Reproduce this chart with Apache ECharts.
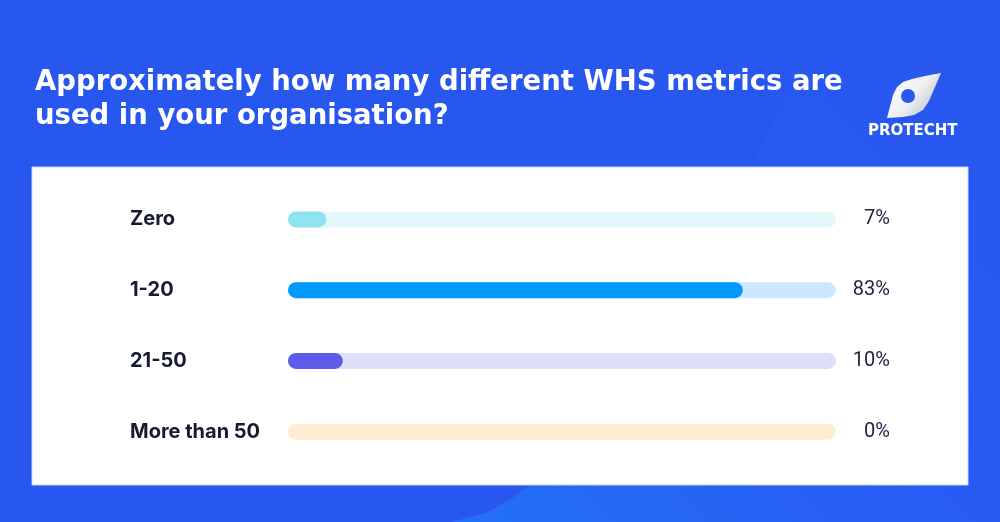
<!DOCTYPE html>
<html>
<head>
<meta charset="utf-8">
<script src="https://cdn.jsdelivr.net/npm/echarts@6/dist/echarts.min.js"></script>
<style>html,body{margin:0;padding:0;background:#2857f0;}#c{width:1000px;height:522px;}</style>
</head>
<body>
<div id="c"></div>
<script>
const categories = ['Zero', '1-20', '21-50', 'More than 50'];
const values = [7, 83, 10, 0];
const percentLabels = ['7%', '83%', '10%', '0%'];
const trackMax = [100, 100, 100, 100];
const barColors = ['#8fe2ef', '#0099ff', '#5b5de8', '#ffc77a'];
const trackColors = ['#e6f7fb', '#cde8fe', '#dfdffa', '#ffecd2'];
const titleText = 'Approximately how many different WHS metrics are\nused in your organisation?';

// decorative swoosh outline (background art, not data)
const swoosh = [[828, 0], [1000, 0], [1000, 522], [452, 522]];
for (let t = 1; t < 20; t++) {
  const u = t / 20;
  swoosh.push([452 + (828 - 452) * Math.pow(u, 0.8), 522 - 522 * Math.pow(u, 1.35)]);
}

const chart = echarts.init(document.getElementById('c'));
chart.setOption({
  backgroundColor: '#2857f0',
  animation: false,
  title: {
    text: titleText,
    left: 30, top: 61,
    textStyle: { color: '#ffffff', fontFamily: 'DejaVu Sans', fontWeight: 'bold', fontSize: 27.5, lineHeight: 34 }
  },
  graphic: [
    { type: 'polygon', z: -10, silent: true,
      shape: { points: swoosh },
      style: { fill: new echarts.graphic.LinearGradient(0, 1, 1, 0, [
        { offset: 0, color: 'rgba(30,140,255,0.5)' },
        { offset: 0.5, color: 'rgba(40,110,250,0.2)' },
        { offset: 1, color: 'rgba(40,87,240,0)' }]) } },
    { type: 'rect', z: -5, silent: true, shape: { x: 32, y: 167, width: 936, height: 318 },
      style: { fill: '#ffffff', stroke: '#c6d3f8', lineWidth: 1 } },
    { type: 'polygon', silent: true,
      shape: { points: [[941, 73], [925, 76], [912, 79], [903, 82], [897, 87], [893, 95], [887, 118], [903, 117], [914, 115], [923, 110], [929, 101]] },
      style: { fill: new echarts.graphic.LinearGradient(0, 0, 1, 1, [
        { offset: 0, color: '#ffffff' }, { offset: 0.5, color: '#eef0f4' }, { offset: 1, color: '#a9b0bf' }]) } },
    { type: 'circle', silent: true, shape: { cx: 908, cy: 96, r: 7 }, style: { fill: '#2857f0' } },
    { type: 'text', silent: true, left: 868, top: 124,
      style: { text: 'PROTECHT', fill: '#ffffff', fontFamily: 'DejaVu Sans', fontWeight: 'bold', fontSize: 15 } }
  ],
  grid: { left: 288, right: 164, top: 184, bottom: 55, containLabel: false },
  xAxis: { type: 'value', min: 0, max: 100, show: false },
  yAxis: [
    { type: 'category', data: categories, inverse: true,
      axisLine: { show: false }, axisTick: { show: false },
      axisLabel: { align: 'left', margin: 158, color: '#161a33', fontFamily: 'Inter', fontWeight: 'bold', fontSize: 20 } },
    { type: 'category', data: percentLabels, inverse: true, position: 'right',
      axisLine: { show: false }, axisTick: { show: false },
      axisLabel: { align: 'right', margin: 54, color: '#1d2140', fontFamily: 'Roboto', fontSize: 20 } }
  ],
  series: [
    { type: 'bar', name: 'track', silent: true, barWidth: 16, barGap: '-100%',
      data: trackMax.map((v, i) => ({ value: v, itemStyle: { color: trackColors[i] } })),
      itemStyle: { borderRadius: 8 }, z: 1 },
    { type: 'bar', name: 'share', barWidth: 16, barGap: '-100%',
      data: values.map((v, i) => ({ value: v, itemStyle: { color: barColors[i] } })),
      itemStyle: { borderRadius: 8 }, z: 2 }
  ]
});
</script>
</body>
</html>
